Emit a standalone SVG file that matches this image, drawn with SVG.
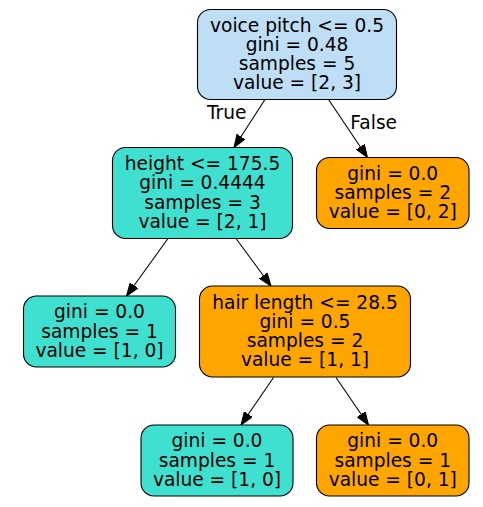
<svg xmlns="http://www.w3.org/2000/svg" width="483" height="507" viewBox="0 0 483 507">
<style>
.n rect{stroke:#000;stroke-width:1.1}
text{font-family:"DejaVu Sans",Verdana,sans-serif;font-size:18.6px;fill:#000;text-anchor:middle}
.e line{stroke:#000;stroke-width:1.1}
.blue{fill:#bedef6}.teal{fill:#40e0d0}.orange{fill:#ffa500}
</style>
<defs>
<marker id="ah" markerUnits="userSpaceOnUse" markerWidth="14" markerHeight="10" refX="13" refY="4.8" orient="auto">
<path d="M0,0 L13,4.8 L0,9.6 z" fill="#000" stroke="#000" stroke-width="1"/>
</marker>
</defs>
<rect width="483" height="507" fill="#fff"/>
<g class="e" id="edges">
<line x1="265" y1="99.5" x2="234" y2="147.5" marker-end="url(#ah)"/>
<line x1="328.5" y1="99.5" x2="367.5" y2="157.5" marker-end="url(#ah)"/>
<line x1="168" y1="238.5" x2="126.5" y2="296" marker-end="url(#ah)"/>
<line x1="236" y1="238.5" x2="271" y2="286" marker-end="url(#ah)"/>
<line x1="273.5" y1="377.5" x2="241" y2="425" marker-end="url(#ah)"/>
<line x1="336" y1="377.5" x2="368.5" y2="425" marker-end="url(#ah)"/>
<text x="226.7" y="119.3">True</text>
<text x="373.7" y="129.3">False</text>
</g>
<g class="n" id="node0">
<rect class="blue" x="197.5" y="9.5" width="199" height="90" rx="13"/>
<text x="297" y="31.7">voice pitch &lt;= 0.5</text>
<text x="297" y="50.9">gini = 0.48</text>
<text x="297" y="70.1">samples = 5</text>
<text x="297" y="89.3">value = [2, 3]</text>
</g>
<g class="n" id="node1">
<rect class="teal" x="112.5" y="147.5" width="180" height="91" rx="13"/>
<text x="202.5" y="170.2">height &lt;= 175.5</text>
<text x="202.5" y="189.4">gini = 0.4444</text>
<text x="202.5" y="208.6">samples = 3</text>
<text x="202.5" y="227.8">value = [2, 1]</text>
</g>
<g class="n" id="node2">
<rect class="orange" x="316.5" y="157.5" width="152.5" height="71" rx="13"/>
<text x="392.75" y="179.8">gini = 0.0</text>
<text x="392.75" y="199">samples = 2</text>
<text x="392.75" y="218.2">value = [0, 2]</text>
</g>
<g class="n" id="node3">
<rect class="teal" x="23.5" y="296" width="152" height="71" rx="13"/>
<text x="99.5" y="318.3">gini = 0.0</text>
<text x="99.5" y="337.5">samples = 1</text>
<text x="99.5" y="356.7">value = [1, 0]</text>
</g>
<g class="n" id="node4">
<rect class="orange" x="199.5" y="286" width="211" height="91" rx="13"/>
<text x="305" y="308.7">hair length &lt;= 28.5</text>
<text x="305" y="327.9">gini = 0.5</text>
<text x="305" y="347.1">samples = 2</text>
<text x="305" y="366.3">value = [1, 1]</text>
</g>
<g class="n" id="node5">
<rect class="teal" x="141" y="425" width="152" height="71" rx="13"/>
<text x="217" y="447.3">gini = 0.0</text>
<text x="217" y="466.5">samples = 1</text>
<text x="217" y="485.7">value = [1, 0]</text>
</g>
<g class="n" id="node6">
<rect class="orange" x="316.5" y="425" width="152.5" height="71" rx="13"/>
<text x="392.75" y="447.3">gini = 0.0</text>
<text x="392.75" y="466.5">samples = 1</text>
<text x="392.75" y="485.7">value = [0, 1]</text>
</g>
</svg>
